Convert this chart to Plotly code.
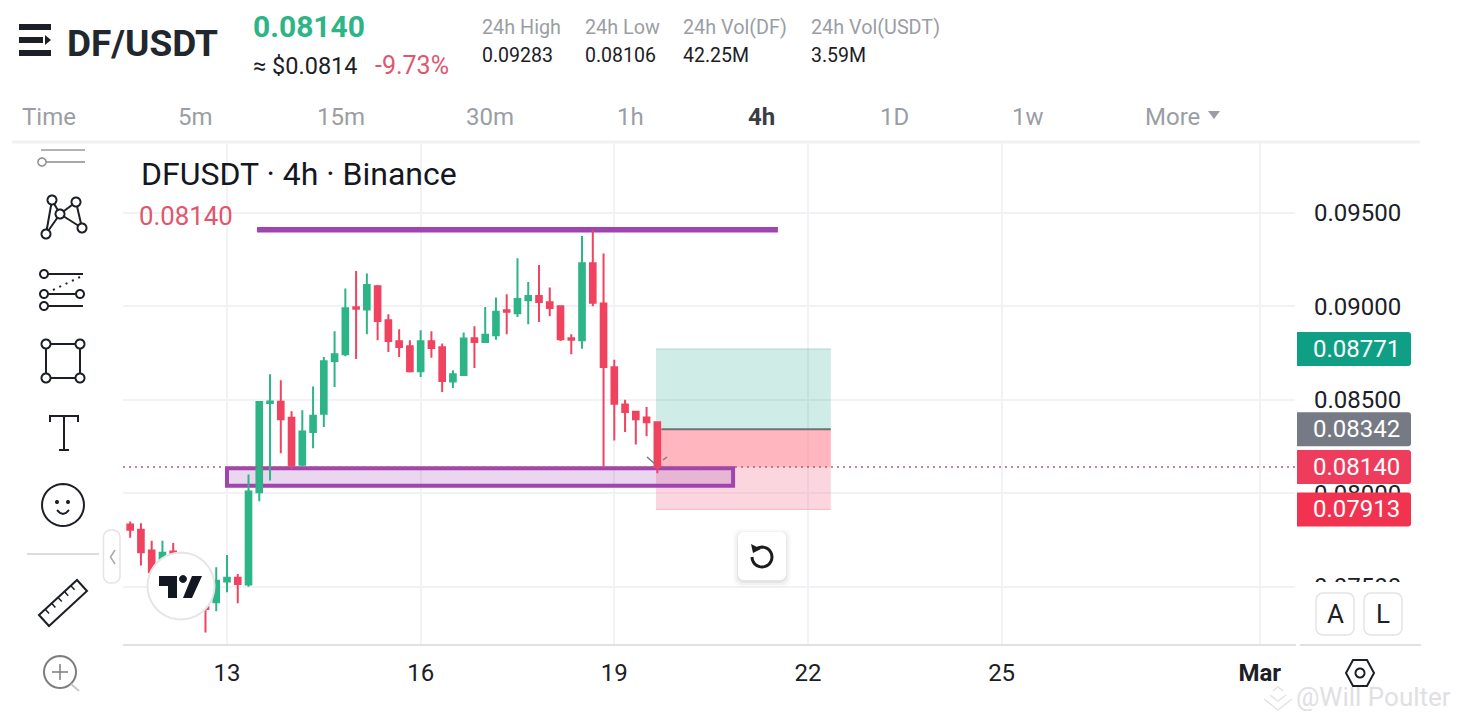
import math
import pandas as pd
import plotly.graph_objects as go

# candles, 4h bars, first bar is 9 bars before Feb 13 00:00
first_bar = "2025-02-11 12:00"
opens = [0.07832, 0.07804, 0.07693, 0.07604, 0.07688, 0.07595, 0.07505, 0.07434, 0.07416,
         0.07527, 0.07548, 0.07511, 0.08005, 0.08482, 0.08489, 0.08404, 0.08152, 0.08327,
         0.08425, 0.08707, 0.08743, 0.08995, 0.08982, 0.09107, 0.08925, 0.08813, 0.08786,
         0.08652, 0.08813, 0.0878, 0.08598, 0.08632, 0.08829, 0.08809, 0.08845, 0.08979,
         0.08963, 0.09032, 0.09054, 0.09021, 0.09, 0.08829, 0.08818, 0.0923, 0.09014,
         0.08673, 0.08475, 0.08436, 0.08405, 0.08379]
highs = [0.07848, 0.07839, 0.07746, 0.07746, 0.07734, 0.07639, 0.07541, 0.07479, 0.07604,
         0.0767, 0.07568, 0.081, 0.08491, 0.08636, 0.08604, 0.08438, 0.08443, 0.08571,
         0.08729, 0.08866, 0.09095, 0.09188, 0.09175, 0.09113, 0.08957, 0.08877, 0.08818,
         0.08871, 0.08866, 0.088, 0.08657, 0.08859, 0.08893, 0.08996, 0.09046, 0.09064,
         0.09257, 0.09129, 0.0922, 0.091, 0.09, 0.0885, 0.09375, 0.09407, 0.09282,
         0.08714, 0.085, 0.08438, 0.08461, 0.08379]
lows = [0.07761, 0.07613, 0.0755, 0.07559, 0.07541, 0.07443, 0.07371, 0.07255, 0.07368,
        0.0747, 0.07411, 0.075, 0.07957, 0.08068, 0.08214, 0.0813, 0.08143, 0.08241,
        0.08354, 0.08568, 0.08732, 0.08718, 0.0885, 0.08818, 0.08755, 0.08729, 0.08646,
        0.08621, 0.08725, 0.08541, 0.08563, 0.0863, 0.0867, 0.08807, 0.0882, 0.0885,
        0.08943, 0.08904, 0.08916, 0.08946, 0.08814, 0.08743, 0.08773, 0.09, 0.08139,
        0.08282, 0.08327, 0.08261, 0.08304, 0.08106]
closes = [0.07804, 0.07684, 0.07577, 0.07682, 0.07595, 0.07505, 0.07434, 0.0738, 0.07532,
          0.07548, 0.07514, 0.08009, 0.08488, 0.08491, 0.08396, 0.08148, 0.0833, 0.08414,
          0.08705, 0.08743, 0.08989, 0.08986, 0.09113, 0.08921, 0.08814, 0.08782, 0.08652,
          0.08813, 0.08777, 0.086, 0.08636, 0.08827, 0.08809, 0.08848, 0.08971, 0.0897,
          0.09038, 0.09054, 0.09023, 0.08991, 0.08823, 0.08821, 0.0923, 0.09018, 0.08675,
          0.08479, 0.08434, 0.08395, 0.08379, 0.0814]

y_ticks = [0.075, 0.08, 0.085, 0.09, 0.095]
y_labels = ["0.07500", "0.08000", "0.08500", "0.09000", "0.09500"]
x_ticks = ["2025-02-13", "2025-02-16", "2025-02-19", "2025-02-22", "2025-02-25", "2025-03-01"]
x_labels = ["13", "16", "19", "22", "25", "<b>Mar</b>"]

last_price = 0.0814
target_price = 0.08771
entry_price = 0.08342
stop_price = 0.07913
resistance = 0.09409
support_top = 0.08134
support_bottom = 0.0804

tabs = ["Time", "5m", "15m", "30m", "1h", "4h", "1D", "1w", "More"]
tab_x = [22, 178, 317, 466, 617, 748, 880, 1012, 1145]
stat_names = ["24h High", "24h Low", "24h Vol(DF)", "24h Vol(USDT)"]
stat_values = ["0.09283", "0.08106", "42.25M", "3.59M"]
stat_x = [482, 585, 683, 811]

GREEN = "#2db487"
RED = "#f0435f"
PURPLE = "#a044b0"
DARK = "#1c2026"
GREY = "#9a9ea4"
GRID = "#f1f2f5"
FONT = "Roboto"

# plot area in page pixels, the page body adds an 8px margin around the figure
L, R, T, B = 123, 1295, 143, 645
PAGE = 8


def xp(x):
    return (x - L) / (R - L)


def yp(y):
    return (B - y) / (B - T)


def path(points, closed=False):
    s = "M " + " L ".join(f"{xp(x):.5f},{yp(y):.5f}" for x, y in points)
    return s + (" Z" if closed else "")


shapes = []
notes = []


def draw(points, color=DARK, width=2, fill=None, closed=False, dash=None):
    shapes.append(dict(type="path", xref="paper", yref="paper", path=path(points, closed),
                       line=dict(color=color, width=width, dash=dash),
                       fillcolor=fill, layer="above"))


def ring(cx, cy, r, color=DARK, width=2, fill="#ffffff"):
    pts = [(cx + r * math.cos(i * math.pi / 20), cy + r * math.sin(i * math.pi / 20)) for i in range(40)]
    draw(pts, color, width, fill, True)


def round_box(x0, y0, x1, y1, r, color, width=1, fill="#ffffff"):
    pts = []
    for cx, cy, a in [(x1 - r, y0 + r, -90), (x1 - r, y1 - r, 0), (x0 + r, y1 - r, 90), (x0 + r, y0 + r, 180)]:
        for i in range(7):
            t = math.radians(a + i * 15)
            pts.append((cx + r * math.cos(t), cy + r * math.sin(t)))
    draw(pts, color, width, fill, True)


def text(x, y, s, size, color=DARK, anchor="left", bold=False, family=FONT):
    notes.append(dict(xref="paper", yref="paper", x=xp(x), y=yp(y), text=f"<b>{s}</b>" if bold else s,
                      showarrow=False, xanchor=anchor, yanchor="middle",
                      font=dict(size=size, color=color, family=family), borderpad=0, borderwidth=0))


def price_zone(x0, x1, y0, y1, fill):
    shapes.append(dict(type="rect", xref="x", yref="y", x0=x0, x1=x1, y0=y0, y1=y1,
                       fillcolor=fill, line=dict(width=0), layer="between"))


# long position tool
tool_start, tool_end = "2025-02-19 15:30", "2025-02-22 08:30"
price_zone(tool_start, tool_end, entry_price, target_price, "rgba(15,159,132,0.2)")
price_zone(tool_start, tool_end, last_price, entry_price, "rgba(255,110,125,0.5)")
price_zone(tool_start, tool_end, stop_price, last_price, "rgba(245,120,145,0.3)")
shapes.append(dict(type="line", xref="x", yref="y", x0=tool_start, x1=tool_end, y0=target_price, y1=target_price,
                   line=dict(color="#a9dacd", width=1), layer="between"))
shapes.append(dict(type="line", xref="x", yref="y", x0=tool_start, x1=tool_end, y0=stop_price, y1=stop_price,
                   line=dict(color="#f9b9c4", width=1), layer="between"))
shapes.append(dict(type="line", xref="x", yref="y", x0="2025-02-19 17:30", x1=tool_end, y0=entry_price, y1=entry_price,
                   line=dict(color="#6f7278", width=2), layer="above"))

# support box and resistance line
shapes.append(dict(type="rect", xref="x", yref="y", x0="2025-02-13 00:00", x1="2025-02-20 20:10",
                   y0=support_bottom, y1=support_top, fillcolor="rgba(160,68,176,0.22)",
                   line=dict(color=PURPLE, width=4), layer="between"))
shapes.append(dict(type="line", xref="x", yref="y", x0="2025-02-13 11:10", x1="2025-02-21 12:50",
                   y0=resistance, y1=resistance, line=dict(color=PURPLE, width=5.5), layer="between"))

# last price line
shapes.append(dict(type="line", xref="paper", yref="y", x0=0, x1=1, y0=last_price, y1=last_price,
                   line=dict(color="#bf5a70", width=1.5, dash="2px,4px"), layer="above"))

# header
draw([(19, 24), (51, 24), (51, 30), (19, 30)], DARK, 0, DARK, True)
draw([(19, 37), (43, 37), (43, 43), (19, 43)], DARK, 0, DARK, True)
draw([(45, 35), (51, 40), (45, 45)], DARK, 0, DARK, True)
draw([(19, 50), (51, 50), (51, 56), (19, 56)], DARK, 0, DARK, True)
text(67, 44, "DF/USDT", 37, "#22272e", bold=True)
text(253, 27, "0.08140", 30, GREEN, bold=True)
text(253, 66, "≈ $0.0814", 23.5, DARK)
text(375, 66, "-9.73%", 25, "#e0566c")
for x, name, value in zip(stat_x, stat_names, stat_values):
    text(x, 28, name, 19.8, GREY)
    text(x, 56, value, 19.5, DARK)
for x, tab in zip(tab_x, tabs):
    if tab == "4h":
        text(x, 117, tab, 24, "#3a3e44", bold=True)
    else:
        text(x, 117, tab, 24, GREY)
draw([(1208, 111), (1220, 111), (1214, 119)], GREY, 0, GREY, True)
draw([(12, 142), (1420, 142)], "#f0f1f3", 3)

# chart legend
text(141, 174, "DFUSDT · 4h · Binance", 32, "#131722")
text(139, 216, "0.08140", 25.8, "#e0566c")

# drawing tools
draw([(41, 150), (85, 150)], "#9a9a9a", 1.5)
ring(42, 162, 4, "#8a8a8a", 1.5)
draw([(46, 162), (85, 162)], "#8a8a8a", 1.5)
nodes = [(52, 200), (76, 202), (60, 214), (82, 228), (46, 234)]
for a, b in [(4, 0), (0, 2), (2, 1), (1, 3), (2, 3), (4, 2)]:
    draw([nodes[a], nodes[b]])
for n in nodes:
    ring(n[0], n[1], 4.5)
draw([(48, 274), (83, 274)])
draw([(53, 290), (80, 277)], dash="2px,5px")
draw([(48, 294), (76, 294)])
draw([(48, 306), (83, 306)])
for c in [(44, 274), (44, 294), (80, 294), (44, 306)]:
    ring(c[0], c[1], 4)
draw([(46, 344), (80, 344), (80, 378), (46, 378)], closed=True)
for c in [(46, 344), (80, 344), (46, 378), (80, 378)]:
    ring(c[0], c[1], 4.5)
draw([(50, 422), (50, 416), (78, 416), (78, 422)])
draw([(64, 416), (64, 450)])
draw([(59, 450), (69, 450)])
ring(63, 505, 21)
ring(57, 502, 1, width=2, fill=DARK)
ring(68, 502, 1, width=2, fill=DARK)
draw([(57, 510), (60, 513), (63, 514), (66, 513), (69, 510)])
draw([(27, 554), (99, 554)], "#dcdcdc", 2)
draw([(39, 615), (77, 580), (87, 591), (49, 626)], closed=True)
for i in range(5):
    x, y = 45 + i * 6.4, 609 - i * 5.9
    draw([(x, y), (x + 4, y + 4.4)], width=1.5)
ring(60, 672, 16, "#7d7d7d", 2)
draw([(52, 672), (68, 672)], "#7d7d7d", 1.5)
draw([(60, 664), (60, 680)], "#7d7d7d", 1.5)
draw([(71, 684), (79, 691)], "#c8c8c8", 2)

# TradingView badge, sidebar handle
ring(181, 586, 33.5, "#e6e6e6", 2)
draw([(159, 576), (177, 576), (177, 598), (168, 598), (168, 586), (159, 586)], "#131722", 0, "#131722", True)
ring(183, 579, 3.5, "#131722", 1, "#131722")
draw([(192, 576), (202, 576), (192, 598), (183, 598)], "#131722", 0, "#131722", True)
round_box(103.5, 530, 120, 583, 7, "#e4e4e6", 1.5)
draw([(115, 550), (110.5, 557), (115, 564)], "#a9a9a9", 1.5)

# cursor marks on the last bar
draw([(647, 457), (655, 464)], "#777b80", 1.5)
draw([(663, 460), (667, 457)], "#777b80", 1.5)

# reset button
for grow, shade in [(5, "rgba(0,0,0,0.02)"), (3, "rgba(0,0,0,0.03)"), (1, "rgba(0,0,0,0.05)")]:
    round_box(738 - grow, 532 - grow + 2, 786 + grow, 580 + grow + 2, 7, "rgba(0,0,0,0)", 0, shade)
round_box(738, 532, 786, 580, 6, "#ffffff", 0)
arc = [(762 + 10 * math.cos(math.radians(a)), 557 + 10 * math.sin(math.radians(a))) for a in range(-120, 190, 15)]
draw(arc, "#1c1c1c", 3)
draw([(751, 544), (753, 553), (761, 549)], "#1c1c1c", 0, "#1c1c1c", True)

# price badges
for price, color, label in [(target_price, "#0f9f84", "0.08771"), (entry_price, "#767a85", "0.08342"),
                            (last_price, "#ee3d5c", "0.08140"), (stop_price, "#f2334f", "0.07913")]:
    shapes.append(dict(type="path", xref="paper", yref="y", ysizemode="pixel", yanchor=price, layer="above",
                       path=f"M {xp(1297):.5f},-17 L {xp(1408):.5f},-17 Q {xp(1411):.5f},-17 {xp(1411):.5f},-14 "
                            f"L {xp(1411):.5f},14 Q {xp(1411):.5f},17 {xp(1408):.5f},17 L {xp(1297):.5f},17 Z",
                       fillcolor=color, line=dict(width=0)))
    notes.append(dict(xref="paper", yref="y", x=xp(1356), y=price, text=label, showarrow=False, xanchor="center",
                      yanchor="middle", font=dict(size=24, color="#ffffff", family=FONT)))

# covers the clipped 0.07500 label, buttons, axis line
draw([(1297, 582), (1420, 582), (1420, 644), (1297, 644)], "#ffffff", 0, "#ffffff", True)
round_box(1316, 593, 1354, 635, 7, "#e4e4e6", 1.5)
round_box(1364, 593, 1402, 635, 7, "#e4e4e6", 1.5)
text(1335, 614, "A", 26, DARK, "center")
text(1383, 614, "L", 26, DARK, "center")
draw([(123, 645), (1296, 645)], "#e0e1e4", 2)
draw([(1300, 645), (1421, 645)], "#e0e1e4", 2)
draw([(1346, 673), (1353, 660), (1367, 660), (1374, 673), (1367, 686), (1353, 686)], closed=True)
ring(1360, 673, 4.5)

# watermark
draw([(1264, 699), (1278, 710), (1292, 699)], "#e4e4e6", 1.5)
draw([(1270, 695), (1278, 701), (1286, 695)], "#e4e4e6", 1.5)
draw([(1273, 691), (1278, 687), (1283, 691)], "#e4e4e6", 1.5)
text(1296, 697, "@Will Poulter", 26, "#e0e0e3")

bars = pd.date_range(first_bar, periods=len(opens), freq="4h")

fig = go.Figure(go.Candlestick(
    x=bars, open=opens, high=highs, low=lows, close=closes,
    increasing=dict(line=dict(color=GREEN, width=2), fillcolor=GREEN),
    decreasing=dict(line=dict(color=RED, width=2), fillcolor=RED),
    whiskerwidth=0, hoverinfo="skip",
))

fig.update_layout(
    width=1459 - 2 * PAGE, height=720 - 2 * PAGE,
    margin=dict(l=L - PAGE, r=1459 - PAGE - R, t=T - PAGE, b=720 - PAGE - B, autoexpand=False),
    paper_bgcolor="#ffffff", plot_bgcolor="#ffffff",
    showlegend=False, boxgap=0.25,
    font=dict(family=FONT, color=DARK),
    shapes=shapes, annotations=notes,
)
fig.update_xaxes(
    type="date", range=["2025-02-11 09:20", "2025-03-01 13:05"], rangeslider_visible=False,
    tickmode="array", tickvals=x_ticks, ticktext=x_labels, tickfont=dict(size=24, color=DARK),
    showgrid=True, gridcolor=GRID, gridwidth=1.5, zeroline=False, showline=False, ticks="", ticklabelstandoff=11,
)
fig.update_yaxes(
    side="right", range=[0.07188, 0.09873], tickmode="array", tickvals=y_ticks, ticktext=y_labels,
    tickfont=dict(size=24, color=DARK), showgrid=True, gridcolor=GRID, gridwidth=1.5, zeroline=False,
    showline=False, ticks="", ticklabelstandoff=18,
)

fig.write_html("out.html", config=dict(displayModeBar=False))
